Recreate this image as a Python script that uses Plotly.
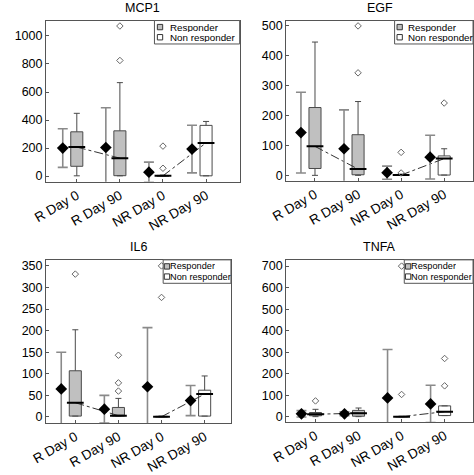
import plotly.graph_objects as go

categories = ["R Day 0", "R Day 90", "NR Day 0", "NR Day 90"]
titles = ["MCP1", "EGF", "IL6", "TNFA"]

# mean and SD per group (error bar + diamond)
mcp1_mean = [200, 204, 28, 193]
mcp1_sd = [138, 284, 72, 170]
egf_mean = [143, 89, 9, 61]
egf_sd = [135, 130, 22, 73]
il6_mean = [65, 18, 70, 38]
il6_sd = [85, 32, 137, 35]
tnfa_mean = [14, 14, 88, 60]
tnfa_sd = [15, 9, 225, 87]

# box statistics: q1, median, q3, lower whisker, upper whisker
mcp1_q1 = [70, 3, 0, 2]
mcp1_med = [207, 128, 2, 237]
mcp1_q3 = [316, 323, 5, 362]
mcp1_lo = [2, 2, 0, 2]
mcp1_hi = [448, 667, 7, 390]
mcp1_out = [[], [1071, 825], [214, 56], []]

egf_q1 = [23, 2, 0, 1]
egf_med = [97, 21, 1, 56]
egf_q3 = [227, 136, 3, 65]
egf_lo = [0, 0, 0, 1]
egf_hi = [446, 247, 4, 89]
egf_out = [[], [500, 343], [77, 8], [242]]

il6_q1 = [2, 2, 0, 2]
il6_med = [33, 3, 0.5, 53]
il6_q3 = [107, 22, 1.5, 62]
il6_lo = [2, 2, 0, 2]
il6_hi = [202, 43, 2, 95]
il6_out = [[331], [143, 79, 60], [350, 277], []]

tnfa_q1 = [5, 3, 0, 6]
tnfa_med = [12, 17, 1, 24]
tnfa_q3 = [20, 30, 2, 51]
tnfa_lo = [1, 1, 0, 6]
tnfa_hi = [35, 41, 3, 51]
tnfa_out = [[74], [], [104, 700], [144, 271]]

panels = [
    dict(mean=mcp1_mean, sd=mcp1_sd, q1=mcp1_q1, med=mcp1_med, q3=mcp1_q3, lo=mcp1_lo, hi=mcp1_hi, out=mcp1_out,
         yr=[-40, 1110], ticks=[0, 200, 400, 600, 800, 1000], px=(32, 232), py=(20, 185), xr=[0.285, 4.78],
         lw=88, sq=3, tx=15, fs=9.8),
    dict(mean=egf_mean, sd=egf_sd, q1=egf_q1, med=egf_med, q3=egf_q3, lo=egf_lo, hi=egf_hi, out=egf_out,
         yr=[-18, 518], ticks=[0, 100, 200, 300, 400, 500], px=(280, 473), py=(20, 184), xr=[0.33, 4.67],
         lw=81, sq=2.5, tx=13, fs=9.8),
    dict(mean=il6_mean, sd=il6_sd, q1=il6_q1, med=il6_med, q3=il6_q3, lo=il6_lo, hi=il6_hi, out=il6_out,
         yr=[-14, 364], ticks=[0, 50, 100, 150, 200, 250, 300, 350], px=(32, 223), py=(265, 432), xr=[0.32, 4.61],
         lw=70, sq=1.2, tx=6, fs=9.2),
    dict(mean=tnfa_mean, sd=tnfa_sd, q1=tnfa_q1, med=tnfa_med, q3=tnfa_q3, lo=tnfa_lo, hi=tnfa_hi, out=tnfa_out,
         yr=[-24, 729], ticks=[0, 100, 200, 300, 400, 500, 600, 700], px=(280, 473), py=(265, 431), xr=[0.318, 4.66],
         lw=71, sq=1.2, tx=6, fs=9.2),
]

W, H = 474, 475
FONT = "Liberation Sans, Arial, Helvetica, sans-serif"
pos = [1, 2, 3, 4]
off = 0.326
bw = 0.28
GRAY = "#c0c0c0"

fig = go.Figure()
shapes = []
annotations = []

for k, p in enumerate(panels):
    sfx = "" if k == 0 else str(k + 1)
    xa, ya = "x" + sfx, "y" + sfx
    groups = [(0, 2, GRAY), (2, 4, "white")]
    # connecting dash-dot lines between medians
    for a, b, col in groups:
        fig.add_trace(go.Scatter(x=pos[a:b], y=p["med"][a:b], mode="lines",
                                 line=dict(color="#333", width=1, dash="dashdot"),
                                 xaxis=xa, yaxis=ya, showlegend=False, hoverinfo="skip"))
    # boxes
    for a, b, col in groups:
        fig.add_trace(go.Box(x=pos[a:b], q1=p["q1"][a:b], median=p["med"][a:b], q3=p["q3"][a:b],
                             lowerfence=p["lo"][a:b], upperfence=p["hi"][a:b],
                             width=bw, whiskerwidth=0.5, fillcolor=col,
                             line=dict(color="#4a4a4a", width=1), boxpoints=False,
                             xaxis=xa, yaxis=ya, showlegend=False, hoverinfo="skip"))
    # thick median lines
    fig.add_trace(go.Scatter(x=pos, y=p["med"], mode="markers",
                             marker=dict(symbol="line-ew-open", size=12, color="black",
                                         line=dict(color="black", width=2)),
                             xaxis=xa, yaxis=ya, showlegend=False, hoverinfo="skip"))
    # outliers
    ox, oy = [], []
    for i, vals in enumerate(p["out"]):
        for v in vals:
            ox.append(pos[i])
            oy.append(v)
    fig.add_trace(go.Scatter(x=ox, y=oy, mode="markers",
                             marker=dict(symbol="diamond-open", size=5, color="#666", line=dict(width=1)),
                             xaxis=xa, yaxis=ya, showlegend=False, hoverinfo="skip"))
    # mean +/- SD
    fig.add_trace(go.Scatter(x=[q - off for q in pos], y=p["mean"], mode="markers",
                             marker=dict(symbol="diamond", size=9, color="black"),
                             error_y=dict(type="data", array=p["sd"], color="#8a8a8a", thickness=1.6, width=5),
                             xaxis=xa, yaxis=ya, showlegend=False, hoverinfo="skip"))

    x0, x1 = p["px"]
    y0, y1 = p["py"]
    axw, axh = x1 - x0, y1 - y0
    common = dict(showline=True, mirror=True, linecolor="#555", linewidth=1, ticks="inside",
                  ticklen=3, tickcolor="#555", showgrid=False, zeroline=False)
    fig.update_layout(**{
        "xaxis" + sfx: dict(domain=[x0 / W, x1 / W], anchor=ya, range=p["xr"], tickmode="array",
                            tickvals=pos, ticktext=categories, tickangle=-30,
                            tickfont=dict(family=FONT, size=13.5, color="black"), **common),
        "yaxis" + sfx: dict(domain=[1 - y1 / H, 1 - y0 / H], anchor=xa, range=p["yr"], tickmode="array",
                            tickvals=p["ticks"], tickfont=dict(family=FONT, size=12.5, color="black"), **common),
    })
    # title
    annotations.append(dict(text=titles[k], xref=xa + " domain", yref=ya + " domain", x=0.5, y=1,
                            yanchor="bottom", yshift=4, showarrow=False,
                            font=dict(family=FONT, size=12.5, color="black")))
    # manual legend
    lw, lh = p["lw"], 24
    lx0 = 1 - lw / axw
    shapes.append(dict(type="rect", xref=xa + " domain", yref=ya + " domain", x0=lx0, x1=1,
                       y0=1 - lh / axh, y1=1, line=dict(color="#555", width=1), fillcolor="white", layer="above"))
    for r, (lab, col) in enumerate([("Responder", GRAY), ("Non responder", "white")]):
        cy = 6.7 + r * 10.4
        sx0 = lx0 + p["sq"] / axw
        shapes.append(dict(type="rect", xref=xa + " domain", yref=ya + " domain",
                           x0=sx0, x1=sx0 + 5.5 / axw, y0=1 - (cy + 2.75) / axh, y1=1 - (cy - 2.75) / axh,
                           line=dict(color="#333", width=1), fillcolor=col, layer="above"))
        annotations.append(dict(text=lab, xref=xa + " domain", yref=ya + " domain",
                                x=lx0 + p["tx"] / axw, y=1 - cy / axh, xanchor="left", yanchor="middle",
                                height=10, valign="middle", borderpad=0, showarrow=False,
                                font=dict(family=FONT, size=p["fs"], color="black")))

fig.update_layout(width=W, height=H, margin=dict(l=0, r=0, t=0, b=0),
                  paper_bgcolor="white", plot_bgcolor="white",
                  shapes=shapes, annotations=annotations, showlegend=False)
fig.write_html("out.html")
